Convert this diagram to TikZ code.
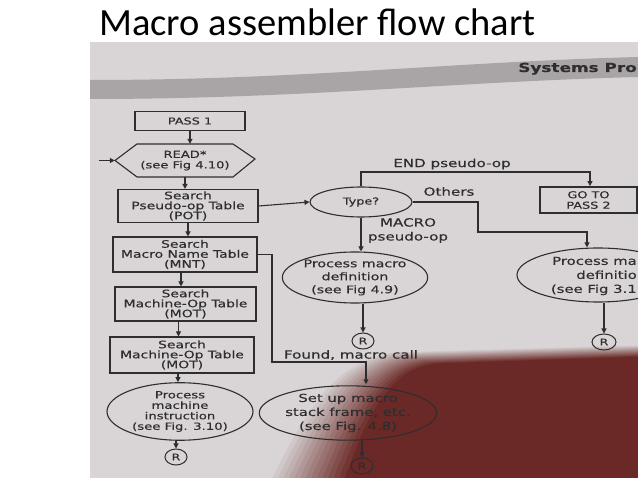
\documentclass[tikz,border=0pt]{standalone}
\usepackage{fontspec}
\setmainfont{DejaVu Sans}
\newfontfamily\bk[FakeStretch=1.35,FakeBold=0.4]{DejaVu Sans}
\newfontfamily\ttl{Carlito}
\usetikzlibrary{shapes.geometric,arrows.meta,calc}
\definecolor{page}{HTML}{D9D5D6}
\definecolor{band}{HTML}{A9A5A6}
\definecolor{ink}{HTML}{2F2D2E}
\definecolor{shade}{HTML}{6A2926}
\tikzset{
  box/.style={draw=ink, line width=1.1pt, rectangle, inner sep=0pt, align=center, text=ink,
    font=\bk\fontsize{10.3}{10}\selectfont},
  oval/.style={draw=ink, line width=1.1pt, ellipse, inner sep=0pt, align=center, text=ink},
  rc/.style={draw=ink, line width=1pt, ellipse, minimum width=22pt, minimum height=16pt,
    inner sep=0pt, text=ink, font=\bk\fontsize{9}{9}\selectfont},
  conn/.style={draw=ink, line width=1.1pt, -{Triangle[length=5pt,width=5pt]}},
  wire/.style={draw=ink, line width=1.1pt},
  lbl/.style={text=ink, font=\bk\fontsize{11.2}{14}\selectfont, inner sep=0pt, align=center}
}
\begin{document}
\begin{tikzpicture}[x=1pt,y=-1pt]
\useasboundingbox (0,0) rectangle (638,478);
\clip (0,0) rectangle (638,478);
\fill[white] (0,0) rectangle (638,478);
% photographed page
\fill[page] (90,42) rectangle (638,478);
\fill[band] (90,80) .. controls (300,80) and (450,62) .. (638,57)
  -- (638,77) .. controls (450,82) and (300,99) .. (90,99) -- cycle;
\node[anchor=base east, inner sep=0pt, text=ink, font=\bk\bfseries\fontsize{12.5}{12.5}\selectfont]
  (hdr) at (637,72) {Systems Pro};
% shadow in the lower right, soft edge built from layers
\foreach \i in {0,...,13}{
  \pgfmathsetmacro{\t}{(\i+1)/14}
  \pgfmathsetmacro{\pc}{100*\t}
  \fill[shade!\pc!page, rounded corners=18pt]
    ({260+80*\t},490) -- ({295+70*\t},425) -- ({330+60*\t},{378+7*\t})
    -- ({375+45*\t},{352+12*\t}) -- (660,{344+12*\t}) -- (660,490) -- cycle;
}
% title
\node[anchor=base west, inner sep=0pt, font=\ttl\fontsize{38.5}{40}\selectfont] (title) at (99,36) {Macro assembler flow chart};

% left column
\node[box, minimum width=110pt, minimum height=19pt, font=\bk\fontsize{9.5}{10}\selectfont] (p1) at (190,121) {PASS 1};
\node[text=ink, align=center, inner sep=0pt, minimum width=140pt, minimum height=33pt,
  font=\bk\fontsize{9.7}{10.5}\selectfont] (rd) at (185,160.5) {READ*\\(see Fig 4.10)};
\draw[ink, line width=1.1pt] (115,160.5) -- (137,144) -- (233,144) -- (255,159) -- (233,177) -- (137,177) -- cycle;
\node[box, minimum width=140pt, minimum height=33pt] (pot) at (188,206) {Search\\Pseudo-op Table\\(POT)};
\node[box, minimum width=144pt, minimum height=35pt] (mnt) at (185,254.5) {Search\\Macro Name Table\\(MNT)};
\node[box, minimum width=141pt, minimum height=34pt] (mot1) at (185.5,304) {Search\\Machine-Op Table\\(MOT)};
\node[box, minimum width=144pt, minimum height=36pt] (mot2) at (182,355) {Search\\Machine-Op Table\\(MOT)};
\node[oval, minimum width=146pt, minimum height=47pt, font=\bk\fontsize{9.8}{10.5}\selectfont] (pmi) at (180,411.5)
  {Process\\machine\\instruction\\(see Fig. 3.10)};
\node[rc] (r1) at (176,457) {R};

% middle column
\node[oval, minimum width=102pt, minimum height=30pt, font=\bk\fontsize{9.5}{10}\selectfont] (type) at (361,202) {Type?};
\node[oval, minimum width=131pt, minimum height=51pt, font=\bk\fontsize{10.5}{13}\selectfont] (pmd) at (355,277.5)
  {Process macro\\definition\\(see Fig 4.9)};
\node[rc] (r2) at (363,341) {R};
\node[oval, minimum width=125pt, minimum height=48pt, font=\bk\fontsize{11}{14}\selectfont] (sms) at (348,413)
  {Set up macro\\stack frame, etc.\\(see Fig. 4.8)};
\node[rc] (r4) at (362,466) {R};

% right column
\node[box, line width=1.8pt, minimum width=97pt, minimum height=26pt, font=\bk\fontsize{9.5}{10.5}\selectfont] (go2) at (588.5,200) {GO TO\\PASS 2};
\node[oval, minimum width=162pt, minimum height=54pt] (rpd) at (598,275) {};
\node[anchor=east, align=right, inner sep=0pt, text=ink, font=\bk\fontsize{11}{14}\selectfont] (rpdt) at (637,276)
  {Process ma\\definitio\\(see Fig 3.1};
\node[rc, minimum width=24pt] (r3) at (604,342) {R};

% labels
\node[lbl] (lend) at (452,164) {END pseudo-op};
\node[lbl] (loth) at (449,191.5) {Others};
\node[lbl] (lmac) at (408,230.5) {MACRO\\pseudo-op};
\node[lbl] (lfnd) at (351,355) {Found, macro call};

% connectors, left column
\coordinate (in) at (99,160.5);
\draw[conn] (in) -- (rd.west);
\draw[conn] (p1.south) -- (p1.south |- rd.north);
\draw[conn] (rd.south) -- (rd.south |- pot.north);
\draw[conn] (pot.south) -- (pot.south |- mnt.north);
\draw[conn] ([xshift=-4pt]mnt.south) -- ([xshift=-4pt]mnt.south |- mot1.north);
\draw[conn] ([xshift=-7pt]mot1.south) -- ([xshift=-7pt]mot1.south |- mot2.north);
\draw[conn] ([xshift=-4pt]mot2.south) -- ([xshift=-4pt]mot2.south |- pmi.north);
\draw[conn] (r1 |- pmi.south) -- (r1.north);

% POT -> Type?
\draw[conn] (pot.east) -- (type.west);
% END pseudo-op
\coordinate (e1) at (590,172);
\draw[conn] (type.north) |- (e1) -- (e1 |- go2.north);
% Others
\coordinate (o1) at (478,202);
\coordinate (o2) at (587,232);
\draw[conn] (type.east) -- (o1) |- (o2) -- (o2 |- rpd.north);
% MACRO pseudo-op
\draw[conn] (type.south) -- (type.south |- pmd.north);
\draw[conn] (r2 |- pmd.south) -- (r2.north);
% Found, macro call
\coordinate (f1) at (272,254.5);
\coordinate (f2) at (366,362);
\draw[conn] (mnt.east) -- (f1) |- (f2) -- ([yshift=1pt]f2 |- sms.north);
\draw[conn] (r4 |- sms.south) -- (r4.north);
\draw[conn] (r3 |- rpd.south) -- (r3.north);
\end{tikzpicture}
\end{document}
